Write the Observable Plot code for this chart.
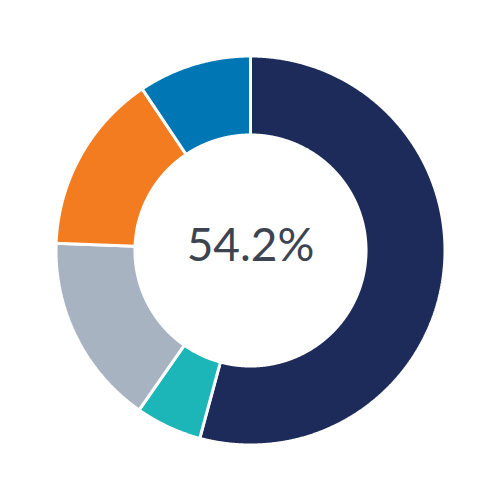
<!DOCTYPE html>
<html>
<head>
<meta charset="utf-8">
<script src="https://cdn.jsdelivr.net/npm/d3@7"></script>
<script src="https://cdn.jsdelivr.net/npm/@observablehq/plot@0.6"></script>
<style>
  html, body { margin: 0; padding: 0; background: #ffffff; }
  #chart { width: 500px; height: 500px; }
</style>
</head>
<body>
<div id="chart"></div>
<script>
// Data (clockwise from 12 o'clock)
const categories = ["A", "B", "C", "D", "E"];
const values = [54.2, 5.5, 15.9, 15.0, 9.4];
const colors = ["#1c2b5a", "#1db6b8", "#a8b3c2", "#f37c20", "#0077b5"];
const centerLabel = "54.2%";

const outerR = 1;
const innerR = 0.594;

// Build slice outlines from d3.pie angles
const pie = d3.pie().sort(null).value(d => d.value)
  .startAngle(0).endAngle(2 * Math.PI);
const arcs = pie(categories.map((c, i) => ({cat: c, value: values[i]})));

const pts = [];
const step = Math.PI / 720;
for (const a of arcs) {
  const ring = [];
  const n = Math.max(2, Math.ceil((a.endAngle - a.startAngle) / step));
  for (let k = 0; k <= n; k++) {
    const t = a.startAngle + (a.endAngle - a.startAngle) * k / n;
    ring.push([outerR * Math.sin(t), outerR * Math.cos(t)]);
  }
  for (let k = n; k >= 0; k--) {
    const t = a.startAngle + (a.endAngle - a.startAngle) * k / n;
    ring.push([innerR * Math.sin(t), innerR * Math.cos(t)]);
  }
  ring.push(ring[0]);
  for (const [x, y] of ring) pts.push({cat: a.data.cat, x, y});
}

const ext = 250 / 194.5;
const plot = Plot.plot({
  width: 500,
  height: 500,
  margin: 0,
  x: {domain: [-ext, ext], axis: null},
  y: {domain: [-ext, ext], axis: null},
  color: {domain: categories, range: colors},
  marks: [
    Plot.line(pts, {
      x: "x", y: "y", z: "cat",
      fill: "cat",
      stroke: "#ffffff",
      strokeWidth: 3,
      strokeLinejoin: "miter",
      curve: "linear"
    }),
    Plot.text([centerLabel], {
      text: d => d,
      frameAnchor: "middle",
      dy: -4,
      fontSize: 46,
      fontFamily: "Lato",
      fill: "#3b4450"
    })
  ]
});
document.getElementById("chart").appendChild(plot);
</script>
</body>
</html>
